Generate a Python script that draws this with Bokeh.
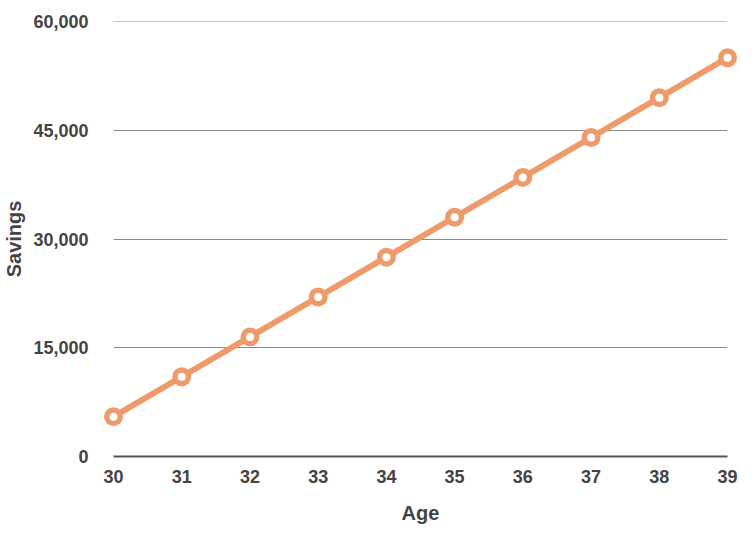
from bokeh.plotting import figure
from bokeh.models import FixedTicker, NumeralTickFormatter, Range1d
from bokeh.embed import file_html
from bokeh.resources import INLINE

ages = [30, 31, 32, 33, 34, 35, 36, 37, 38, 39]
savings = [5500, 11000, 16500, 22000, 27500, 33000, 38500, 44000, 49500, 55000]
y_ticks = [0, 15000, 30000, 45000, 60000]

ORANGE = "#EE9A6B"
TEXT = "#444444"
FONT = "Liberation Sans"

p = figure(width=738, height=528, output_backend="svg", toolbar_location=None,
           x_range=Range1d(30, 39), y_range=Range1d(0, 60000.5),
           min_border_left=113, min_border_right=11, min_border_top=21, min_border_bottom=72)
p.outline_line_color = None
p.background_fill_color = "white"
p.border_fill_color = "white"

p.xgrid.grid_line_color = None
p.ygrid.grid_line_color = "#8a8a8a"
p.ygrid.grid_line_width = 1

p.xaxis.ticker = FixedTicker(ticks=ages)
p.yaxis.ticker = FixedTicker(ticks=y_ticks)
p.yaxis.formatter = NumeralTickFormatter(format="0,0")

for ax in (p.xaxis, p.yaxis):
    ax.major_tick_line_color = None
    ax.minor_tick_line_color = None
    ax.major_label_text_font = FONT
    ax.major_label_text_font_style = "bold"
    ax.major_label_text_font_size = "18px"
    ax.major_label_text_color = TEXT
    ax.axis_label_text_font = FONT
    ax.axis_label_text_font_style = "bold"
    ax.axis_label_text_font_size = "20px"
    ax.axis_label_text_color = TEXT

p.yaxis.axis_line_color = None
p.yaxis.major_label_standoff = 19
p.yaxis.axis_label = "Savings"
p.yaxis.axis_label_standoff = 5

p.xaxis.axis_line_color = "#555555"
p.xaxis.axis_line_width = 2
p.xaxis.major_label_standoff = 7
p.xaxis.axis_label = "Age"
p.xaxis.axis_label_standoff = 16

r1 = p.line(ages, savings, line_color=ORANGE, line_width=6)
r2 = p.scatter(ages, savings, size=19, fill_color=ORANGE, line_color=None)
r3 = p.scatter(ages, savings, size=8, fill_color="white", line_color=None)
for r in (r1, r2, r3):
    r.level = "overlay"

open("out.html", "w").write(file_html(p, INLINE))
